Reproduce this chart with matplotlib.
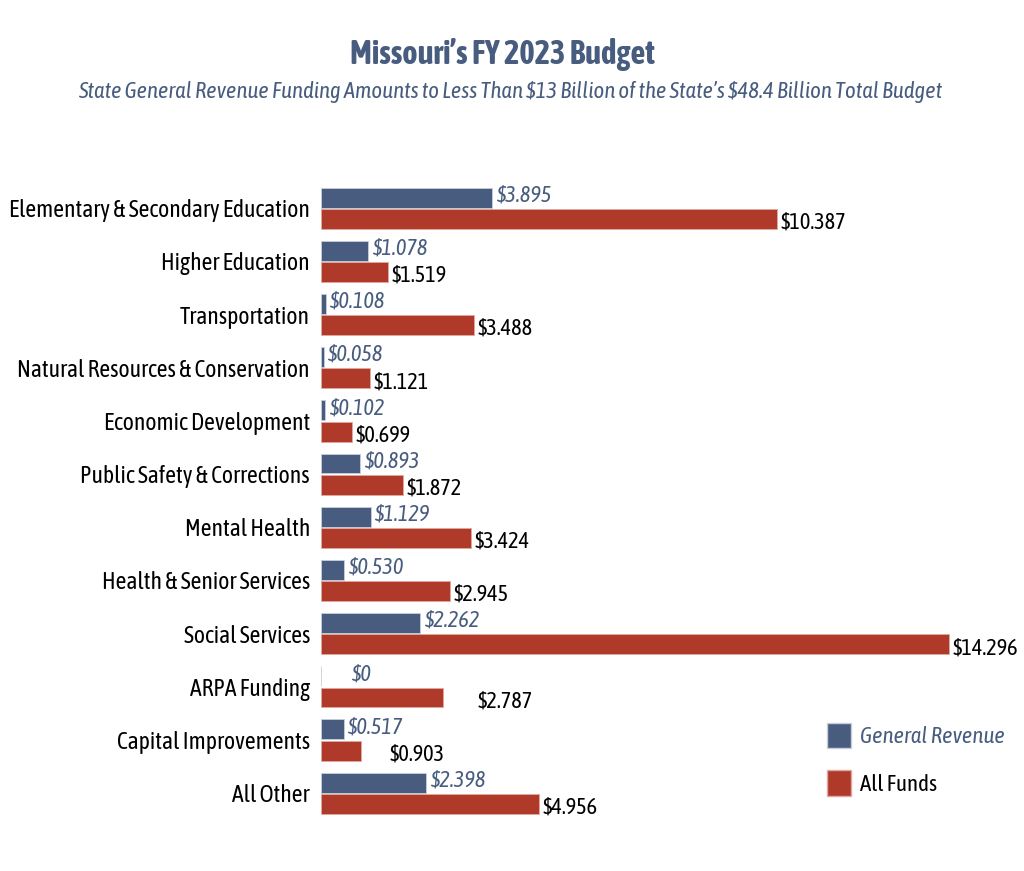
import matplotlib
matplotlib.use('Agg')
import matplotlib.pyplot as plt
from matplotlib.patches import Patch
import numpy as np

categories = ['Elementary & Secondary Education', 'Higher Education', 'Transportation',
              'Natural Resources & Conservation', 'Economic Development',
              'Public Safety & Corrections', 'Mental Health', 'Health & Senior Services',
              'Social Services', 'ARPA Funding', 'Capital Improvements', 'All Other']
general_revenue = [3.895, 1.078, 0.108, 0.058, 0.102, 0.893, 1.129, 0.530, 2.262, 0.0, 0.517, 2.398]
all_funds = [10.387, 1.519, 3.488, 1.121, 0.699, 1.872, 3.424, 2.945, 14.296, 2.787, 0.903, 4.956]

# a few labels in the original sit further out than the bar end (points)
gr_extra = {9: 19}
af_extra = {9: 22, 10: 18}

BLUE = '#475c7e'
RED = '#b03a2a'
plt.rcParams['font.family'] = ['Asap Condensed', 'DejaVu Sans']
plt.rcParams['text.parse_math'] = False

fig = plt.figure(figsize=(10.24, 8.71), dpi=100, facecolor='white')
ax = fig.add_axes([321 / 1024, 23 / 871, 1 - 321 / 1024, 693 / 871])

y = np.arange(len(categories))
h = 0.375
ax.barh(y - 0.2, general_revenue, height=h, color=BLUE, edgecolor='#c8cfdb', linewidth=0.6)
ax.barh(y + 0.2, all_funds, height=h, color=RED, edgecolor='#e0a89f', linewidth=0.6)

ax.set_xlim(0, 16)
ax.set_ylim(12.03, -1.0)

for i, v in enumerate(general_revenue):
    ax.annotate('${:.3f}'.format(v) if v else '$0', (v, i - 0.24), xytext=(2.5 + gr_extra.get(i, 0), 0),
                textcoords='offset points', va='center', ha='left', fontsize=16,
                style='italic', color=BLUE)
for i, v in enumerate(all_funds):
    ax.annotate('${:.3f}'.format(v), (v, i + 0.27), xytext=(2.5 + af_extra.get(i, 0), 0),
                textcoords='offset points', va='center', ha='left', fontsize=16, color='black')

ax.set_yticks(y)
ax.set_yticklabels(categories, fontsize=17)
ax.tick_params(axis='y', length=0, pad=8)
ax.set_xticks([])
for s in ax.spines.values():
    s.set_visible(False)

fig.text(0.491, 0.937, "Missouri\u2019s FY 2023 Budget", ha='center', va='center',
         fontsize=23.5, fontweight='bold', color=BLUE)
fig.text(0.498, 0.894, "State General Revenue Funding Amounts to Less Than $13 Billion of the State\u2019s $48.4 Billion Total Budget",
         ha='center', va='center', fontsize=16.4, style='italic', color=BLUE)

handles = [Patch(facecolor=BLUE, edgecolor='#c8cfdb'), Patch(facecolor=RED, edgecolor='#e0a89f')]
leg = fig.legend(handles, ['General Revenue', 'All Funds'], loc='upper left',
                 bbox_to_anchor=(806 / 1024, 1 - 702 / 871), frameon=False, fontsize=16.5,
                 handlelength=1.05, handleheight=1.35, labelspacing=0.95, handletextpad=0.4)
leg.get_texts()[0].set_color(BLUE)
leg.get_texts()[0].set_style('italic')

fig.savefig('out.png', dpi=100, facecolor='white')
